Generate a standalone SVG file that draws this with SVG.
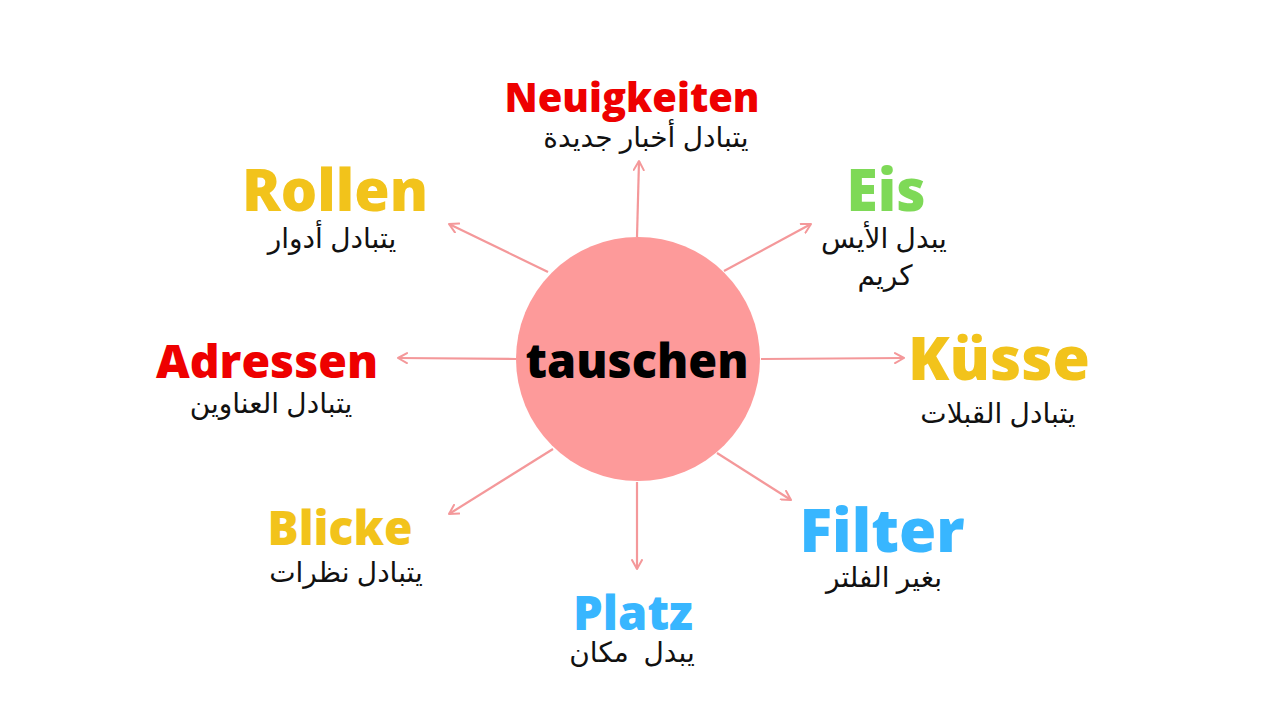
<svg xmlns="http://www.w3.org/2000/svg" width="1280" height="720" viewBox="0 0 1280 720">
<defs>
<marker id="ah" viewBox="0 0 12 12" refX="10" refY="6" markerWidth="12" markerHeight="12" markerUnits="userSpaceOnUse" orient="auto">
<path d="M1,1 L10,6 L1,11" fill="none" stroke="#f4989a" stroke-width="2" stroke-linecap="round" stroke-linejoin="round"/>
</marker>
</defs>
<style>
.w{font-family:"Open Sans","Noto Sans",sans-serif;font-weight:800;text-anchor:middle}
.a{font-family:"Noto Sans","DejaVu Sans",sans-serif;font-size:28px;fill:#111;text-anchor:middle}
.red{fill:#ee0000}.yel{fill:#f2c31b}.grn{fill:#7ed957}.blu{fill:#38b6ff}
.c{stroke:#f4989a;stroke-width:2.2;fill:none;marker-end:url(#ah)}
</style>
<rect width="1280" height="720" fill="#ffffff"/>
<g id="connectors">
<line class="c" x1="637" y1="237" x2="639" y2="161"/>
<line class="c" x1="548" y1="272" x2="449" y2="224"/>
<line class="c" x1="724" y1="271" x2="811" y2="224"/>
<line class="c" x1="516" y1="359" x2="398" y2="358"/>
<line class="c" x1="761" y1="359" x2="904" y2="358"/>
<line class="c" x1="553" y1="449" x2="449" y2="514"/>
<line class="c" x1="717" y1="453" x2="791" y2="500"/>
<line class="c" x1="637" y1="482" x2="637" y2="569"/>
</g>
<g id="center">
<circle cx="638" cy="359" r="122" fill="#fd9a9a"/>
<text class="w" x="637" y="378" font-size="47" fill="#000" textLength="223" lengthAdjust="spacingAndGlyphs">tauschen</text>
</g>
<g id="neuigkeiten">
<text class="w red" x="632" y="112" font-size="40" textLength="255" lengthAdjust="spacingAndGlyphs">Neuigkeiten</text>
<text class="a" x="646" y="147" direction="rtl">يتبادل أخبار جديدة</text>
</g>
<g id="rollen">
<text class="w yel" x="335" y="211" font-size="58" textLength="186" lengthAdjust="spacingAndGlyphs">Rollen</text>
<text class="a" x="332" y="248" direction="rtl">يتبادل أدوار</text>
</g>
<g id="eis">
<text class="w grn" x="886" y="211" font-size="59" textLength="79" lengthAdjust="spacingAndGlyphs">Eis</text>
<text class="a" x="884" y="248" direction="rtl">يبدل الأيس</text>
<text class="a" x="885" y="285" direction="rtl">كريم</text>
</g>
<g id="adressen">
<text class="w red" x="267" y="378" font-size="46" textLength="222" lengthAdjust="spacingAndGlyphs">Adressen</text>
<text class="a" x="271" y="413" direction="rtl">يتبادل العناوين</text>
</g>
<g id="kuesse">
<text class="w yel" x="999" y="380" font-size="61" textLength="182" lengthAdjust="spacingAndGlyphs">Küsse</text>
<text class="a" x="998" y="423" direction="rtl">يتبادل القبلات</text>
</g>
<g id="blicke">
<text class="w yel" x="340" y="545" font-size="47" textLength="145" lengthAdjust="spacingAndGlyphs">Blicke</text>
<text class="a" x="346" y="582" direction="rtl">يتبادل نظرات</text>
</g>
<g id="filter">
<text class="w blu" x="882" y="552" font-size="61" textLength="165" lengthAdjust="spacingAndGlyphs">Filter</text>
<text class="a" x="884" y="587" direction="rtl">بغير الفلتر</text>
</g>
<g id="platz">
<text class="w blu" x="633" y="630" font-size="47" textLength="120" lengthAdjust="spacingAndGlyphs">Platz</text>
<text class="a" x="632" y="662" direction="rtl" xml:space="preserve">يبدل  مكان</text>
</g>
</svg>
